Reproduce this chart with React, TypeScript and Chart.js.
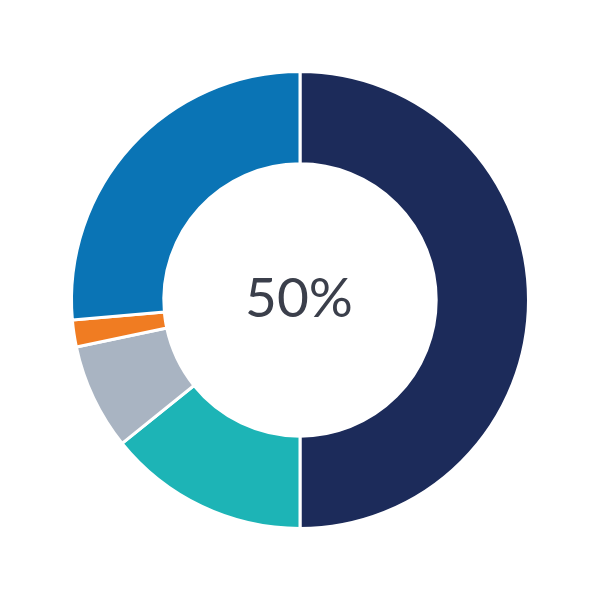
import React, { useEffect, useRef } from "react";
import { Chart, registerables } from "chart.js";

Chart.register(...registerables);

const labels = ["Navy", "Teal", "Gray", "Orange", "Blue"];
const values = [50, 14.2, 7.5, 1.9, 26.4];
const colors = ["#1c2b5a", "#1db4b6", "#a9b4c2", "#f07c22", "#0a74b5"];
const centerLabel = "50%";

export default function App() {
  const ref = useRef<HTMLCanvasElement | null>(null);
  useEffect(() => {
    document.body.style.margin = "0";
    const chart = new Chart(ref.current!, {
      type: "doughnut",
      data: {
        labels,
        datasets: [
          {
            data: values,
            backgroundColor: colors,
            borderColor: "#ffffff",
            borderWidth: 3,
          },
        ],
      },
      options: {
        animation: false,
        responsive: false,
        cutout: "59.6%",
        layout: { padding: 70 },
        plugins: { legend: { display: false }, tooltip: { enabled: false } },
      },
    });
    return () => chart.destroy();
  }, []);
  return (
    <div style={{ position: "relative", width: 600, height: 600, background: "#fff" }}>
      <canvas ref={ref} width={600} height={600} style={{ display: "block" }} />
      <div
        style={{
          position: "absolute",
          left: 0,
          top: 0,
          width: 600,
          height: 600,
          display: "flex",
          alignItems: "center",
          justifyContent: "center",
          fontFamily: "Lato, sans-serif",
          fontSize: 55,
          color: "#3b3f4b",
          pointerEvents: "none",
        }}
      >
        <span style={{ lineHeight: 1, marginLeft: -2, marginTop: -8 }}>{centerLabel}</span>
      </div>
    </div>
  );
}
